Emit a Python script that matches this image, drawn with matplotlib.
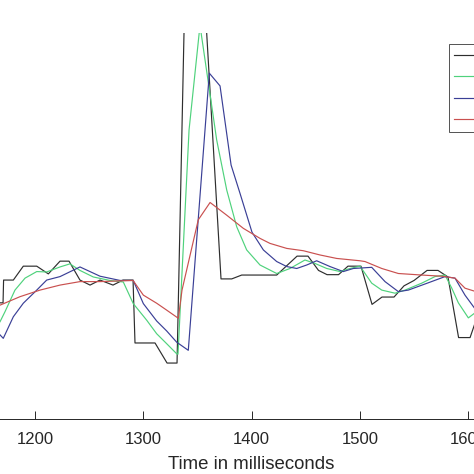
import numpy as np
import matplotlib.pyplot as plt

plt.rcParams['font.family'] = ['Liberation Sans', 'DejaVu Sans']

# raw signal (black) - time in ms, value in arbitrary units
raw_t = [1167.7, 1170.5, 1171, 1180, 1189.2, 1201.6, 1212.3, 1223.1, 1231.4, 1241.5,
         1250.8, 1260, 1272, 1281.2, 1290.5, 1292.3, 1310.8, 1321.9, 1331.1, 1343.1,
         1371.7, 1381.6, 1390.8, 1423.1, 1441.9, 1452, 1461.7, 1469.6, 1480.2, 1488.9,
         1500.9, 1511.1, 1520.3, 1531.4, 1540.6, 1549.9, 1561.9, 1572, 1581.2, 1591,
         1601.6, 1607.1]
raw_v = [30.1, 30.1, 36.0, 36.0, 39.6, 39.6, 37.6, 40.9, 40.9, 36.0,
         34.7, 36.0, 34.7, 36.0, 36.0, 19.7, 19.7, 14.5, 14.5, 174.0,
         36.3, 36.3, 37.3, 37.3, 42.2, 42.2, 38.5, 37.4, 37.4, 39.6,
         39.6, 29.7, 31.6, 31.6, 34.5, 35.9, 38.5, 38.5, 36.8, 21.1,
         21.1, 25.6]

# first filter (green)
f1_t = [1167.7, 1172.3, 1181.5, 1190.8, 1201.6, 1210.8, 1223.1, 1232.3, 1241.5, 1253.8,
        1269.2, 1281.5, 1290.7, 1303.1, 1312.3, 1321.6, 1330.8, 1332.0, 1342.2, 1352.3,
        1367.7, 1377.0, 1386.2, 1395.4, 1407.7, 1423.1, 1435.4, 1449.2, 1458.5, 1469.3,
        1481.6, 1490.8, 1500.0, 1510.8, 1520.1, 1532.3, 1541.6, 1557.0, 1569.2, 1578.5,
        1584.7, 1590.8, 1600.0, 1607.1]
f1_v = [25.2, 27.8, 33.4, 36.5, 38.2, 38.1, 39.4, 40.2, 38.5, 36.8,
        35.9, 35.5, 29.9, 25.6, 22.1, 19.5, 16.9, 16.8, 74.9, 102.0,
        72.3, 59.3, 49.8, 43.8, 39.9, 37.7, 39.0, 41.2, 40.3, 39.0,
        38.2, 39.0, 39.6, 35.2, 33.4, 32.6, 33.4, 35.2, 36.9, 37.3,
        33.9, 30.1, 26.2, 27.7]

# second filter (blue)
f2_t = [1167.7, 1170.7, 1180.0, 1189.2, 1201.6, 1210.8, 1223.1, 1241.5, 1260.0, 1278.5,
        1290.7, 1300.0, 1312.3, 1321.6, 1330.8, 1341.5, 1360.9, 1370.8, 1381.0, 1389.2,
        1400.3, 1410.8, 1423.1, 1432.4, 1441.6, 1450.8, 1460.0, 1472.3, 1484.6, 1493.8,
        1510.8, 1523.1, 1535.4, 1544.6, 1563.1, 1578.5, 1587.7, 1596.9, 1607.1]
f2_v = [21.8, 20.9, 26.5, 30.0, 33.4, 36.0, 36.9, 39.4, 37.0, 35.9,
        35.9, 29.9, 25.4, 22.8, 19.9, 17.8, 89.6, 86.3, 65.8, 58.5,
        48.4, 43.8, 40.8, 39.5, 39.0, 39.9, 41.0, 39.5, 38.2, 39.0,
        39.3, 35.6, 33.0, 33.4, 35.3, 36.9, 36.5, 32.1, 28.2]

# third filter (red)
f3_t = [1167.7, 1186.2, 1204.6, 1223.1, 1241.5, 1260.0, 1290.5, 1300.0, 1312.3, 1321.6,
        1332.3, 1335.7, 1350.7, 1361.6, 1377.0, 1392.3, 1407.7, 1416.9, 1432.4, 1447.7,
        1463.1, 1478.5, 1500.0, 1504.6, 1520.1, 1535.4, 1557.0, 1575.4, 1587.7, 1596.9,
        1607.1]
f3_v = [29.5, 31.7, 33.4, 34.7, 35.6, 35.6, 35.9, 32.1, 30.0, 28.2,
        26.1, 33.4, 51.6, 56.1, 52.8, 49.4, 46.8, 45.5, 44.2, 43.6,
        42.5, 41.6, 41.0, 40.8, 39.0, 37.7, 37.3, 37.0, 36.5, 33.9,
        33.0]

labels = ['Raw signal', 'Filter 1', 'Filter 2', 'Filter 3']
colors = ['#2e2e2e', '#4fd27c', '#3a3f96', '#c9504f']
xticks = [1200, 1300, 1400, 1500, 1600]

fig = plt.figure(figsize=(4.74, 4.74), dpi=100)
# axes wider than the figure: the picture is a crop of a bigger plot
ax = fig.add_axes([-0.1547, 0.1160, 1.3713, 0.8143])

series = [(raw_t, raw_v), (f1_t, f1_v), (f2_t, f2_v), (f3_t, f3_v)]
for (t, v), c, lab in zip(series, colors, labels):
    ax.plot(t, v, color=c, linewidth=0.85, label=lab)

ax.set_xlim(1100, 1700)
ax.set_ylim(0, 100)
ax.set_xticks(xticks)
ax.set_yticks([])
for s in ['top', 'left', 'right']:
    ax.spines[s].set_visible(False)
ax.spines['bottom'].set_color('#262626')
ax.spines['bottom'].set_linewidth(0.7)
ax.tick_params(axis='x', direction='in', length=5.8, width=0.7, color='#262626',
               labelsize=12, labelcolor='#262626', pad=9)
ax.set_xlabel('Time in milliseconds', fontsize=13.4, color='#262626', labelpad=7)

leg = fig.legend(loc='upper left', bbox_to_anchor=(449.3 / 474, 1 - 44.3 / 474),
                 fontsize=10.8, frameon=True, fancybox=False, borderpad=0.3,
                 labelspacing=0.5, handlelength=2.0, borderaxespad=0)
leg.get_frame().set_edgecolor('#262626')
leg.get_frame().set_linewidth(0.7)

fig.savefig('out.png', dpi=100)
